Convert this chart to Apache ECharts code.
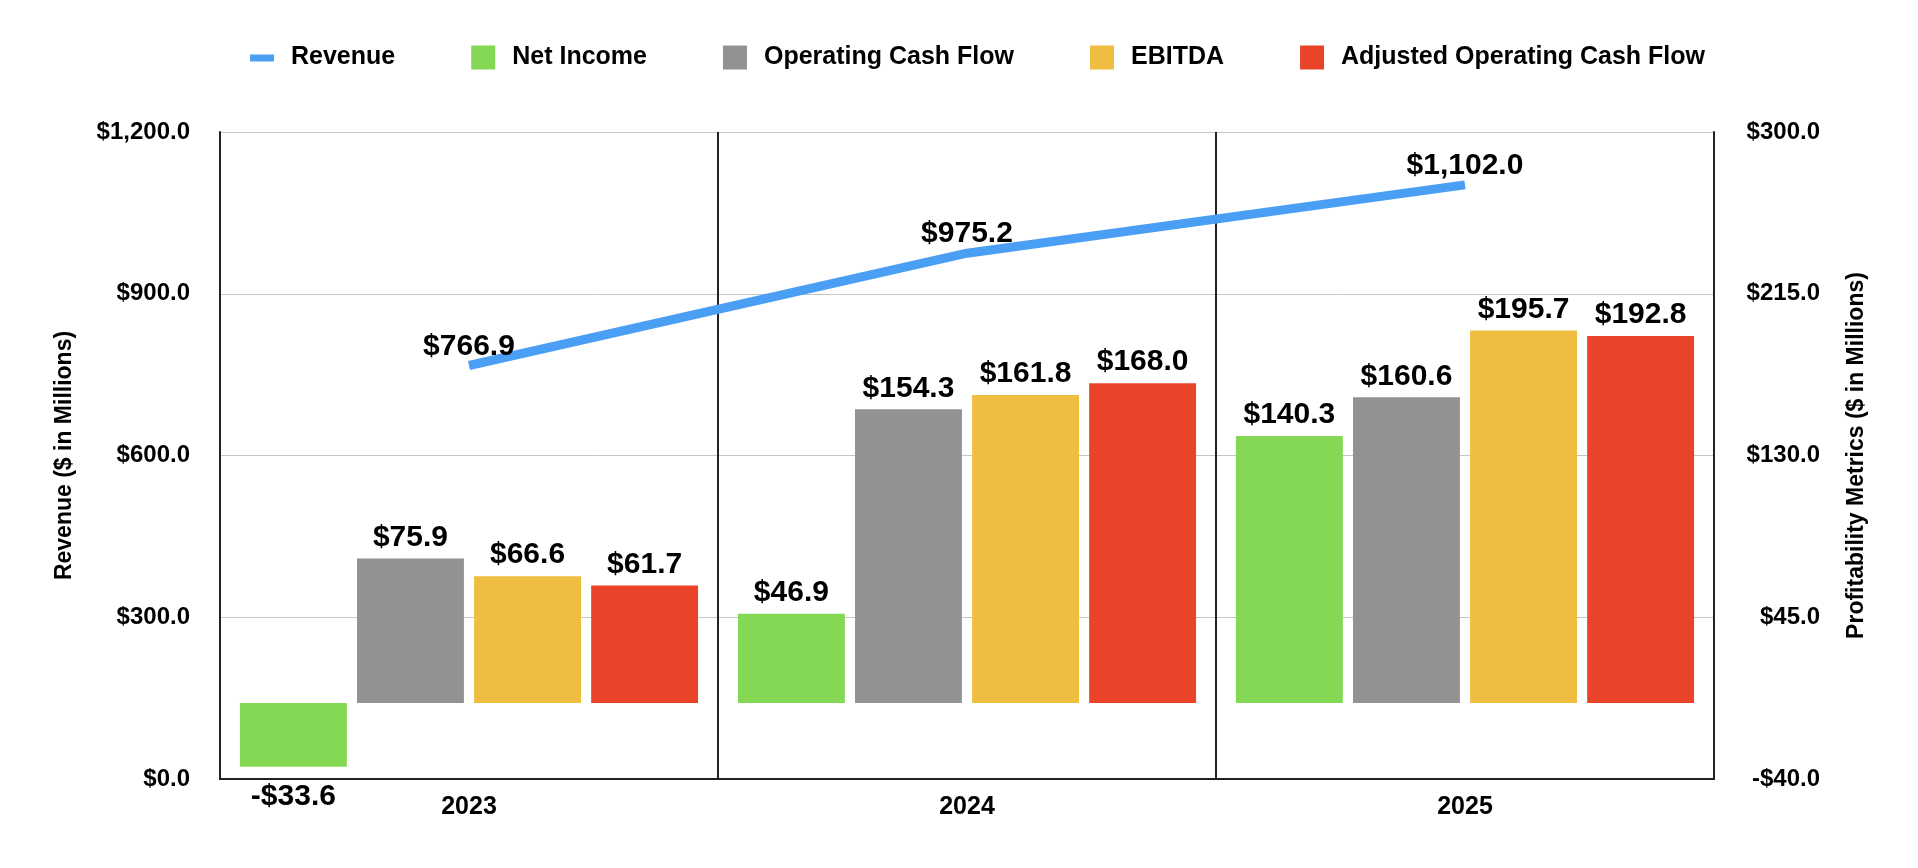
<!DOCTYPE html>
<html>
<head>
<meta charset="utf-8">
<script src="https://cdn.jsdelivr.net/npm/echarts@6/dist/echarts.min.js"></script>
<style>
  html, body { margin: 0; padding: 0; background: #fff; }
  #chart { width: 1918px; height: 868px; }
</style>
</head>
<body>
<div id="chart"></div>
<script>
// ---- data ----
const years = ['2023', '2024', '2025']
const revenue = [766.9, 975.2, 1102.0]
const netIncome = [-33.6, 46.9, 140.3]
const operatingCashFlow = [75.9, 154.3, 160.6]
const ebitda = [66.6, 161.8, 195.7]
const adjustedOperatingCashFlow = [61.7, 168.0, 192.8]

const FONT = '"Liberation Sans", Arial, Helvetica, sans-serif'
const BLUE = '#4a9ff5'

// $1,102.0 / -$33.6
function money(v) {
  const s = Math.abs(v).toFixed(1).replace(/\B(?=(\d{3})+(?!\d))/g, ',')
  return (v < 0 ? '-$' : '$') + s
}

const barLabel = {
  show: true,
  position: 'top',
  distance: 6,
  fontFamily: FONT,
  fontWeight: 'bold',
  fontSize: 30,
  color: '#000',
  formatter: p => money(p.value)
}

// negative bars get their label underneath
function barData(arr) {
  return arr.map(v => v < 0 ? { value: v, label: { position: 'bottom', distance: 15 } } : v)
}

function barSeries(name, arr, color) {
  return {
    name,
    type: 'bar',
    yAxisIndex: 1,
    data: barData(arr),
    itemStyle: { color },
    label: barLabel,
    barGap: '9.5%',
    barCategoryGap: '8%'
  }
}

// legend line icon for Revenue (thin slivers top/bottom keep the height)
const lineIcon = 'path://M0,0L24,0L24,0.01L0,0.01Z M0,9L24,9L24,16L0,16Z M0,23.99L24,23.99L24,24L0,24Z'

const chart = echarts.init(document.getElementById('chart'))

chart.setOption({
  animation: false,
  backgroundColor: '#fff',
  legend: {
    top: 40,
    left: 245,
    itemGap: 76,
    itemWidth: 24,
    itemHeight: 24,
    textStyle: {
      fontFamily: FONT, fontWeight: 'bold', fontSize: 25, color: '#000',
      padding: [0, 0, 0, 12]
    },
    data: [
      { name: 'Revenue', icon: lineIcon, itemStyle: { color: BLUE, opacity: 1 } },
      { name: 'Net Income', icon: 'rect' },
      { name: 'Operating Cash Flow', icon: 'rect' },
      { name: 'EBITDA', icon: 'rect' },
      { name: 'Adjusted Operating Cash Flow', icon: 'rect' }
    ]
  },
  grid: { left: 220, right: 204, top: 132, bottom: 89 },
  xAxis: {
    type: 'category',
    data: years,
    axisLine: { lineStyle: { color: '#222', width: 2 } },
    axisTick: { show: false },
    axisLabel: {
      margin: 16,
      fontFamily: FONT, fontWeight: 'bold', fontSize: 25, color: '#000'
    },
    splitLine: { show: true, lineStyle: { color: '#222', width: 2 } }
  },
  yAxis: [
    {
      type: 'value',
      min: 0,
      max: 1200,
      interval: 300,
      name: 'Revenue ($ in Millions)',
      nameLocation: 'middle',
      nameGap: 144,
      nameTextStyle: { fontFamily: FONT, fontWeight: 'bold', fontSize: 23, color: '#000' },
      axisLine: { show: true, lineStyle: { color: '#222', width: 2 } },
      axisTick: { show: false },
      axisLabel: {
        margin: 30,
        fontFamily: FONT, fontWeight: 'bold', fontSize: 24, color: '#000',
        formatter: v => money(v)
      },
      splitLine: { show: true, lineStyle: { color: '#c6c6c6', width: 1 } }
    },
    {
      type: 'value',
      min: -40,
      max: 300,
      interval: 85,
      name: 'Profitability Metrics ($ in Millions)',
      nameLocation: 'middle',
      nameGap: 131,
      nameTextStyle: { fontFamily: FONT, fontWeight: 'bold', fontSize: 23, color: '#000' },
      axisLine: { show: true, lineStyle: { color: '#222', width: 2 } },
      axisTick: { show: false },
      axisLabel: {
        margin: 106,
        align: 'right',
        fontFamily: FONT, fontWeight: 'bold', fontSize: 24, color: '#000',
        formatter: v => money(v)
      },
      splitLine: { show: false }
    }
  ],
  series: [
    {
      name: 'Revenue',
      type: 'line',
      yAxisIndex: 0,
      data: revenue,
      z: 5,
      symbol: 'circle',
      symbolSize: 2,
      showSymbol: true,
      lineStyle: { color: BLUE, width: 9, cap: 'butt' },
      itemStyle: { color: 'rgba(0,0,0,0)' },
      label: {
        show: true,
        position: 'top',
        distance: 3,
        fontFamily: FONT, fontWeight: 'bold', fontSize: 30, color: '#000',
        formatter: p => money(p.value)
      }
    },
    barSeries('Net Income', netIncome, '#84d854'),
    barSeries('Operating Cash Flow', operatingCashFlow, '#929292'),
    barSeries('EBITDA', ebitda, '#efbd40'),
    barSeries('Adjusted Operating Cash Flow', adjustedOperatingCashFlow, '#e94329')
  ]
})
</script>
</body>
</html>
